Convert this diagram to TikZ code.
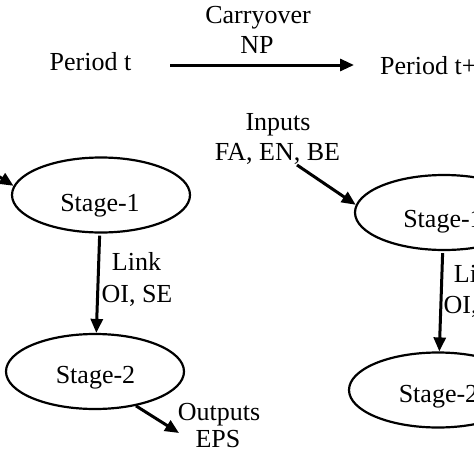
\documentclass[tikz,border=0pt]{standalone}
\usepackage{fontspec}
\setmainfont{Liberation Serif}
\usetikzlibrary{arrows.meta,shapes.geometric}
\tikzset{
  stage/.style={ellipse,draw,line width=2.2pt,minimum width=178pt,minimum height=75pt,inner sep=0pt},
  lbl/.style={anchor=base,inner sep=0pt,font=\fontsize{26}{31}\selectfont},
  arr/.style={line width=3pt,-{Triangle[length=14pt,width=12pt]}},
}
\begin{document}
\begin{tikzpicture}[x=1pt,y=-1pt]
\useasboundingbox (0,0) rectangle (474,474);
\clip (0,0) rectangle (474,474);
% top row
\node[lbl] (pt) at (90.5,70) {Period t};
\node[lbl,anchor=base west] (pt1) at (380,74) {Period t+1};
\node[lbl] (carry) at (258,23) {Carryover};
\node[lbl] (np) at (257,53) {NP};
\coordinate (ca) at (170,65);
\coordinate (cb) at (354,65);
\draw[arr] (ca) -- (cb);
% left period
\node[stage] (l1) at (101,195) {};
\node[lbl] (l1t) at (100,211) {Stage-1};
\node[stage] (l2) at (95,371.5) {};
\node[lbl] (l2t) at (95.5,383) {Stage-2};
\node[lbl] (llink) at (136.5,270) {Link};
\node[lbl] (loise) at (137,302) {OI, SE};
\node[lbl] (lout) at (219,420) {Outputs};
\node[lbl] (leps) at (218,447) {EPS};
\coordinate (linL) at (-46,148);
\coordinate (louttip) at (179,433);
\draw[arr] (linL) -- (l1.174);
\draw[arr,shorten <=2pt] (l1) -- (l2);
\draw[arr] (l2.-40) -- (louttip);
% right period
\node[lbl] (rin) at (278,130) {Inputs};
\node[lbl] (rfa) at (277.5,160) {FA, EN, BE};
\node[stage] (r1) at (444,212.5) {};
\node[lbl] (r1t) at (443,227) {Stage-1};
\node[stage] (r2) at (438,390) {};
\node[lbl] (r2t) at (438.5,402) {Stage-2};
\node[lbl] (rlink) at (478.5,282) {Link};
\node[lbl] (roise) at (479,313) {OI, SE};
\coordinate (rinA) at (297,165);
\draw[arr] (rinA) -- (r1.175);
\draw[arr,shorten <=2pt] (r1) -- (r2);
\end{tikzpicture}
\end{document}
